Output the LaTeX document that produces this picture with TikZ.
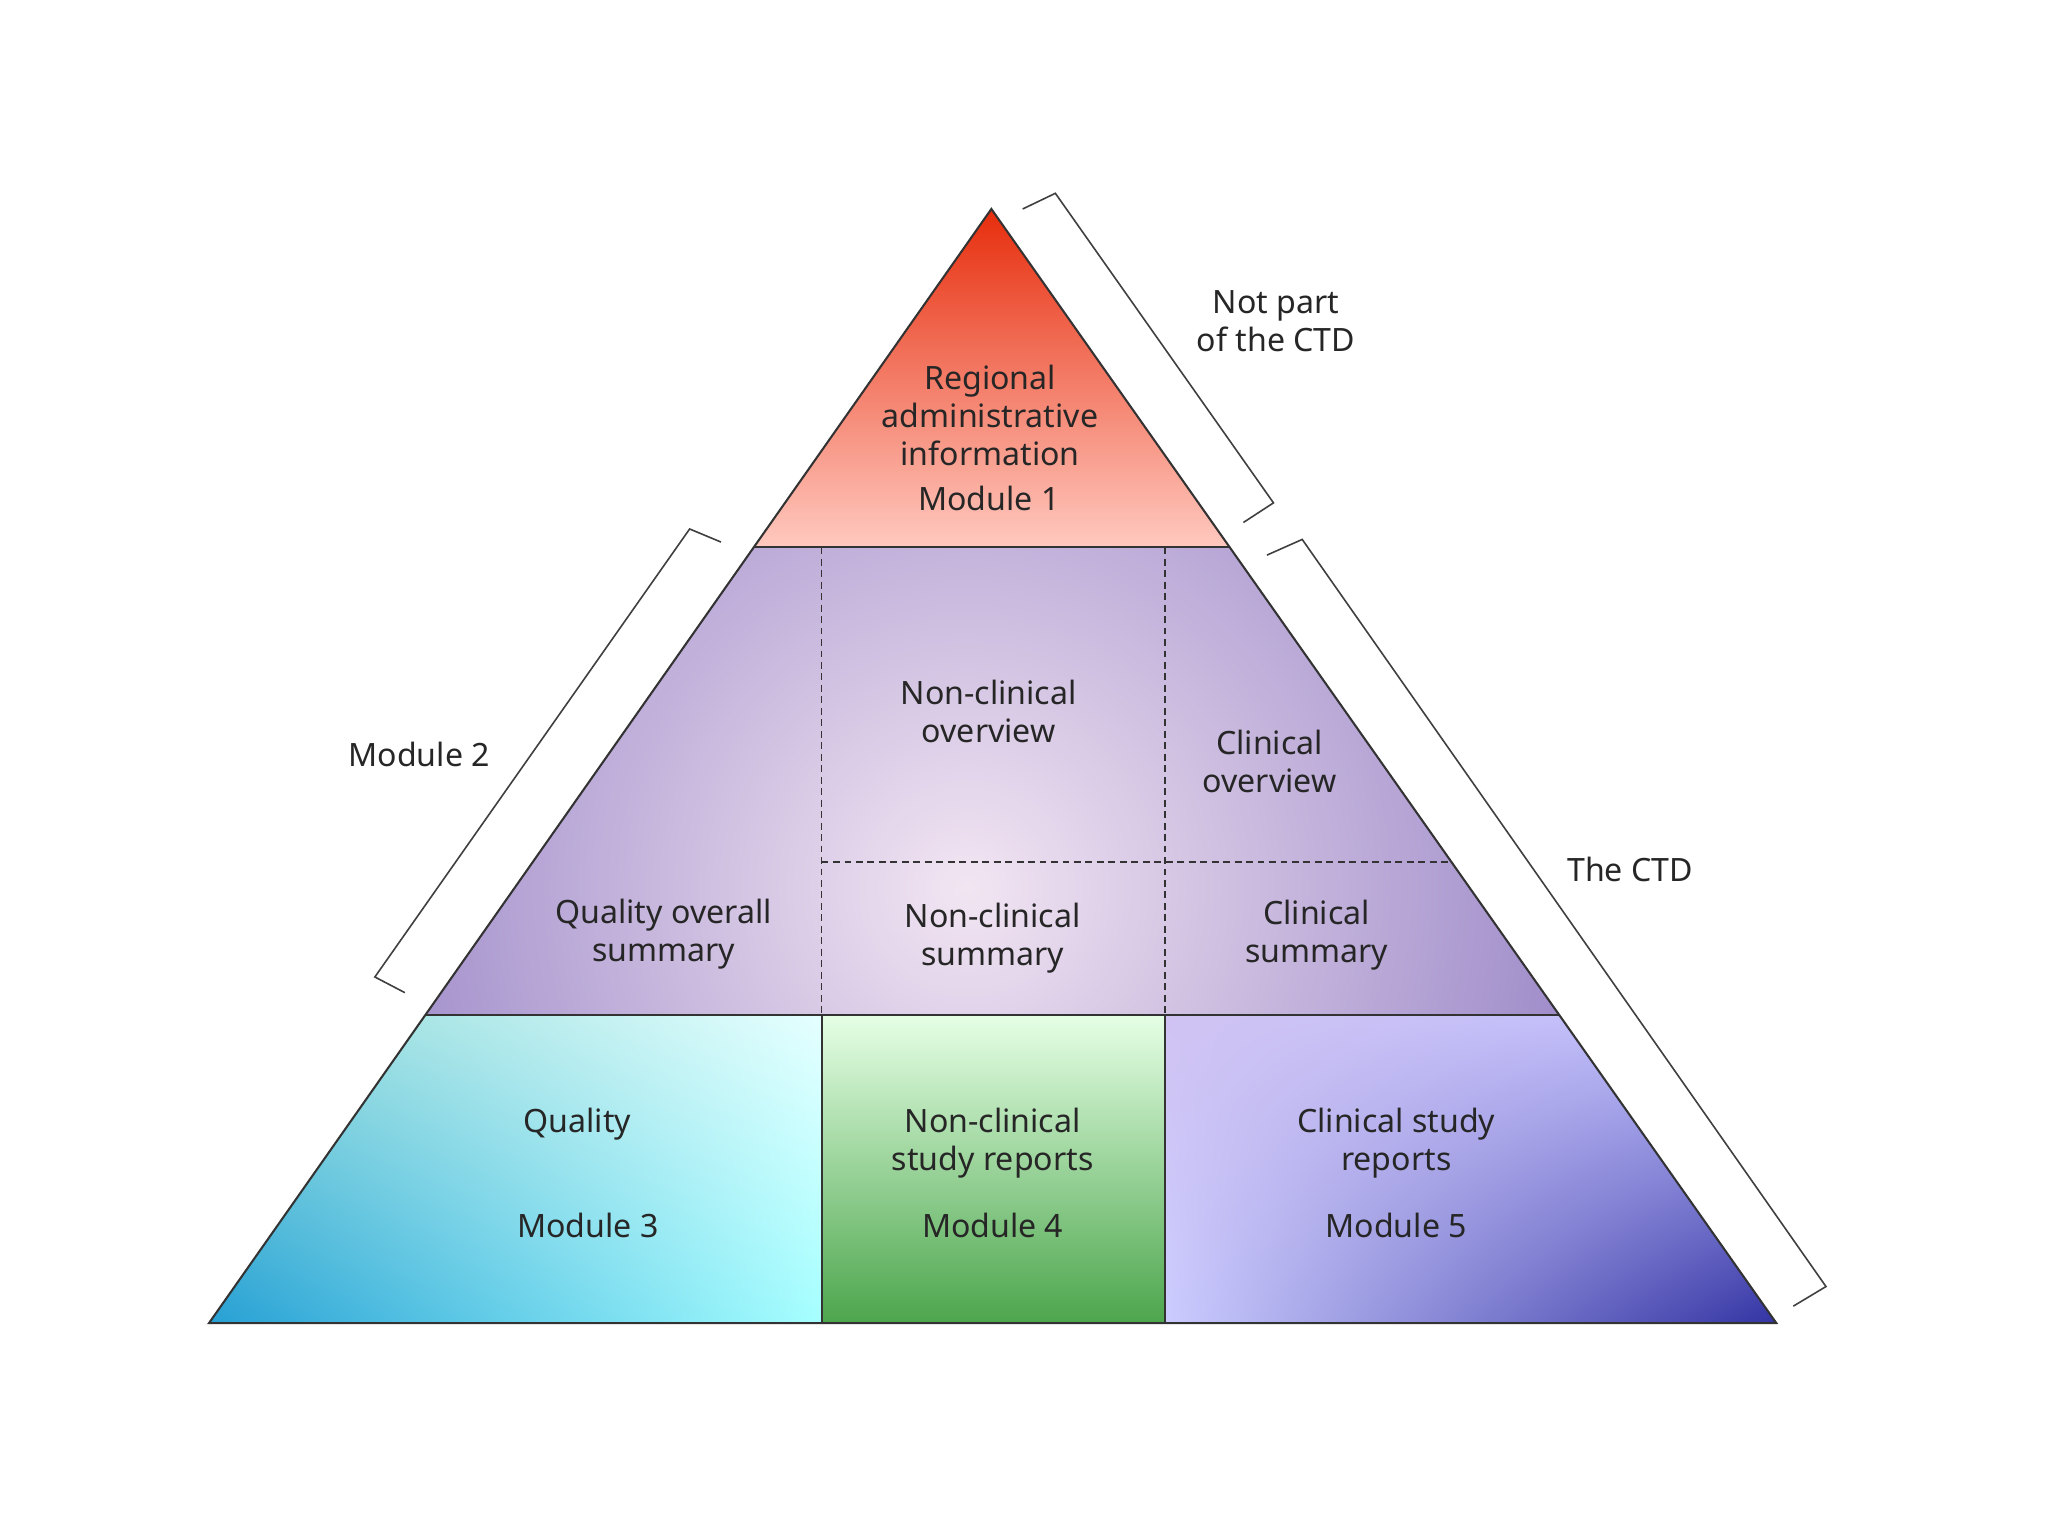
\documentclass[tikz,border=0pt]{standalone}
\usepackage{fontspec}
\usetikzlibrary{shadings}
\setmainfont{Noto Sans}
\begin{document}
\begin{tikzpicture}[x=0.02cm,y=-0.02cm,
  lbl/.style={align=center,font=\fontsize{14}{16.5}\selectfont,text=black!85},
  edge/.style={draw=black!80,line width=0.9pt},
  dashln/.style={draw=black!80,line width=0.8pt,dash pattern=on 3pt off 2pt},
  brk/.style={draw=black!75,line width=0.7pt}]
\useasboundingbox (0,0) rectangle (1568,1176);
% module 1
\shade[top color=red!70!orange!90!black!95,bottom color=orange!30!red!25!white]
  (759,160) -- (941,419) -- (577,419) -- cycle;
% module 2 band
\begin{scope}
\clip (577,419) -- (941,419) -- (1194,777) -- (326,777) -- cycle;
\shade[inner color=white!90!violet,outer color=violet!45!blue!40!white!85!black] (740,680) circle (520);
\end{scope}
% module 3
\shade[upper right=cyan!10!white,lower left=cyan!70!blue!80!black!85,upper left=cyan!35!white!85!black,lower right=cyan!35!white]
  (160,1013) -- (326,777) -- (629,777) -- (629,1013) -- cycle;
% module 4
\shade[top color=green!10!white,bottom color=green!50!black!70!white]
  (629,777) rectangle (892,1013);
% module 5
\shade[upper left=blue!15!white!90!violet,upper right=blue!25!white,lower left=blue!20!white,lower right=blue!55!black!80]
  (892,777) -- (1194,777) -- (1360,1013) -- (892,1013) -- cycle;
% outlines
\draw[edge] (759,160) -- (1360,1013) -- (160,1013) -- cycle;
\draw[edge] (577,419) -- (941,419);
\draw[edge] (326,777) -- (1194,777);
\draw[edge] (629,777) -- (629,1013);
\draw[edge] (892,777) -- (892,1013);
\draw[dashln] (629,419) -- (629,777);
\draw[dashln] (892,419) -- (892,777);
\draw[dashln] (629,660) -- (1111,660);
% brackets
\draw[brk] (783,160) -- (808,148) -- (975,385) -- (952,400);
\draw[brk] (970,425) -- (997,413) -- (1398,985) -- (1373,1000);
\draw[brk] (552,415) -- (528,405) -- (287,748) -- (310,760);
% labels
\node[lbl] (m1) at (758,318) {Regional\\administrative\\information};
\node[lbl] (m1b) at (757,382) {Module 1};
\node[lbl] (np) at (977,246) {Not part\\of the CTD};
\node[lbl] (ctd) at (1248,666) {The CTD};
\node[lbl] (mod2) at (321,578) {Module 2};
\node[lbl] (nco) at (757,545) {Non-clinical\\overview};
\node[lbl] (co) at (972,583) {Clinical\\overview};
\node[lbl] (qos) at (508,715) {Quality overall\\summary};
\node[lbl] (ncs) at (760,718) {Non-clinical\\summary};
\node[lbl] (cs) at (1008,716) {Clinical\\summary};
\node[lbl] (q) at (442,861) {Quality};
\node[lbl] (m3) at (450,938) {Module 3};
\node[lbl] (ncsr) at (760,875) {Non-clinical\\study reports};
\node[lbl] (m4) at (760,938) {Module 4};
\node[lbl] (csr) at (1069,875) {Clinical study\\reports};
\node[lbl] (m5) at (1069,938) {Module 5};
\end{tikzpicture}
\end{document}
